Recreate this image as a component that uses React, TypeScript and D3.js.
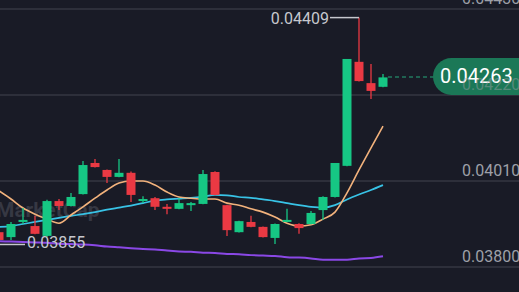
import React from "react";
import * as d3 from "d3";

const opens = [0.03885, 0.03873, 0.03910, 0.03900, 0.03876, 0.03961, 0.03949, 0.03978, 0.04054, 0.04037, 0.04020, 0.04030, 0.03961, 0.03968, 0.03947, 0.03942, 0.03951, 0.03954, 0.04032, 0.03951, 0.03885, 0.03910, 0.03898, 0.03871, 0.03910, 0.03905, 0.03905, 0.03939, 0.03971, 0.04047, 0.04301, 0.04249, 0.04240];
const highs = [0.03888, 0.03910, 0.03944, 0.03925, 0.03964, 0.03966, 0.03981, 0.04059, 0.04064, 0.04038, 0.04064, 0.04033, 0.03973, 0.03971, 0.03954, 0.03968, 0.03959, 0.04037, 0.04034, 0.03952, 0.03913, 0.03925, 0.03899, 0.03906, 0.03942, 0.03907, 0.03937, 0.03973, 0.04054, 0.04308, 0.04409, 0.04296, 0.04271];
const lows = [0.03863, 0.03866, 0.03905, 0.03880, 0.03873, 0.03939, 0.03948, 0.03977, 0.04043, 0.04005, 0.04019, 0.03959, 0.03956, 0.03939, 0.03929, 0.03941, 0.03937, 0.03953, 0.03975, 0.03876, 0.03884, 0.03897, 0.03872, 0.03856, 0.03909, 0.03881, 0.03904, 0.03915, 0.03970, 0.04046, 0.04253, 0.04210, 0.04239];
const closes = [0.03866, 0.03905, 0.03915, 0.03881, 0.03961, 0.03949, 0.03971, 0.04049, 0.04044, 0.04020, 0.04030, 0.03976, 0.03966, 0.03947, 0.03942, 0.03956, 0.03956, 0.04027, 0.03976, 0.03890, 0.03912, 0.03898, 0.03873, 0.03905, 0.03915, 0.03895, 0.03932, 0.03971, 0.04054, 0.04308, 0.04254, 0.04230, 0.04263];

const maShort = [0.03986, 0.03966, 0.03944, 0.03929, 0.03917, 0.03907, 0.03927, 0.03947, 0.03968, 0.03988, 0.04005, 0.04010, 0.04010, 0.04000, 0.03983, 0.03971, 0.03968, 0.03966, 0.03966, 0.03956, 0.03951, 0.03942, 0.03934, 0.03922, 0.03907, 0.03900, 0.03903, 0.03917, 0.03934, 0.03981, 0.04037, 0.04091, 0.04144];
const maMid = [0.03898, 0.03900, 0.03905, 0.03910, 0.03915, 0.03920, 0.03925, 0.03929, 0.03934, 0.03940, 0.03945, 0.03950, 0.03956, 0.03962, 0.03965, 0.03967, 0.03969, 0.03972, 0.03976, 0.03975, 0.03971, 0.03969, 0.03965, 0.03961, 0.03956, 0.03951, 0.03947, 0.03945, 0.03951, 0.03965, 0.03977, 0.03988, 0.04000];
const maLong = [0.03863, 0.03862, 0.03861, 0.03860, 0.03859, 0.03857, 0.03856, 0.03855, 0.03853, 0.03850, 0.03848, 0.03846, 0.03844, 0.03843, 0.03840, 0.03838, 0.03837, 0.03835, 0.03834, 0.03832, 0.03831, 0.03829, 0.03828, 0.03827, 0.03824, 0.03823, 0.03821, 0.03818, 0.03818, 0.03818, 0.03821, 0.03822, 0.03826];

const gridTicks = [0.0443, 0.0422, 0.0401, 0.038];
const tickLabels = ["0.04430", "0.04220", "0.04010", "0.03800"];
const highLabel = "0.04409";
const highValue = 0.04409;
const lowLabel = "0.03855";
const lowValue = 0.03855;
const lastLabel = "0.04263";

const W = 519;
const H = 292;
const GREEN = "#16c784";
const RED = "#ea3943";
const FONT = "Roboto, 'Noto Sans', sans-serif";

export default function App() {
  const n = opens.length;
  const x = d3.scaleLinear().domain([0, n - 1]).range([-1, 383]);
  const y = d3.scaleLinear().domain([0.038, 0.0443]).range([267, 9]);
  const line = (arr: number[]) =>
    d3
      .line<number>()
      .x((_, i) => x(i))
      .y((v) => y(v))
      .curve(d3.curveMonotoneX)(arr) as string;
  const bodyW = 9;
  const highIdx = highs.indexOf(d3.max(highs) as number);

  return (
    <svg
      width={W}
      height={H}
      style={{ position: "absolute", left: 0, top: 0, background: "#191b26" }}
      fontFamily={FONT}
    >
      <rect x={0} y={0} width={W} height={H} fill="#191b26" />
      {gridTicks.map((t) => (
        <line key={t} x1={0} x2={W} y1={y(t)} y2={y(t)} stroke="#2d2f3a" strokeWidth={2} />
      ))}
      <text x={-4} y={217} fontSize={21} fontWeight={700} fill="#363843">
        MarketCap
      </text>
      {tickLabels.map((l, i) =>
        i === 1 ? null : (
          <text key={l} x={462} y={y(gridTicks[i]) - 5} fontSize={16} fill="#9ea0a8">
            {l}
          </text>
        )
      )}
      <path d={line(maLong)} fill="none" stroke="#8a48e6" strokeWidth={2} />
      <path d={line(maMid)} fill="none" stroke="#38c3e6" strokeWidth={1.7} />
      <path d={line(maShort)} fill="none" stroke="#f2b27c" strokeWidth={1.6} />
      {opens.map((o, i) => {
        const c = closes[i];
        const up = c >= o;
        const col = up ? GREEN : RED;
        const top = y(Math.max(o, c));
        const bot = y(Math.min(o, c));
        return (
          <g key={i}>
            <line x1={x(i)} x2={x(i)} y1={y(highs[i])} y2={y(lows[i])} stroke={col} strokeWidth={1.3} />
            <rect x={x(i) - bodyW / 2} y={top} width={bodyW} height={Math.max(1.5, bot - top)} fill={col} />
          </g>
        );
      })}
      <line x1={330} x2={x(highIdx)} y1={y(highValue)} y2={y(highValue)} stroke="#c6c8ce" strokeWidth={1.5} />
      <text x={329} y={y(highValue) + 6} fontSize={16} fill="#c6c8ce" textAnchor="end">
        {highLabel}
      </text>
      <line x1={0} x2={25} y1={y(lowValue)} y2={y(lowValue)} stroke="#c6c8ce" strokeWidth={1.5} />
      <text x={27} y={y(lowValue) + 4} fontSize={16} fill="#c6c8ce">
        {lowLabel}
      </text>
      <line x1={x(n - 1) + 5} x2={434} y1={77} y2={77} stroke="#26a77a" strokeWidth={1.2} strokeDasharray="4 3" />
      <rect x={433} y={58} width={110} height={37} rx={18.5} fill="#1b7857" />
      <text x={440} y={83} fontSize={20} fill="#ffffff">
        {lastLabel}
      </text>
      <text x={462} y={y(gridTicks[1]) - 5} fontSize={16} fill="#9ea0a8" opacity={0.45}>
        {tickLabels[1]}
      </text>
    </svg>
  );
}
